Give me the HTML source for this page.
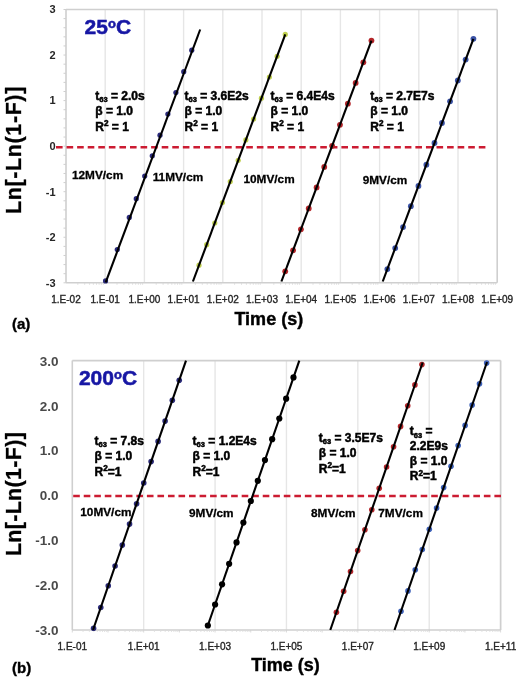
<!DOCTYPE html>
<html><head><meta charset="utf-8"><title>Weibull plots</title>
<style>
html,body{margin:0;padding:0;background:#fff;}
body{width:520px;height:680px;overflow:hidden;}
svg{display:block;font-family:'Liberation Sans', Arial, sans-serif;}
</style></head>
<body>
<svg width="520" height="680" viewBox="0 0 520 680">
<defs><filter id="sf" x="0" y="0" width="1" height="1"><feGaussianBlur stdDeviation="0.5"/></filter></defs>
<rect width="520" height="680" fill="#fff"/>
<g filter="url(#sf)">
<line x1="105.20" y1="9.50" x2="105.20" y2="282.80" stroke="#e6e6e6" stroke-width="1.4" />
<line x1="144.40" y1="9.50" x2="144.40" y2="282.80" stroke="#e6e6e6" stroke-width="1.4" />
<line x1="183.60" y1="9.50" x2="183.60" y2="282.80" stroke="#e6e6e6" stroke-width="1.4" />
<line x1="222.80" y1="9.50" x2="222.80" y2="282.80" stroke="#e6e6e6" stroke-width="1.4" />
<line x1="262.00" y1="9.50" x2="262.00" y2="282.80" stroke="#e6e6e6" stroke-width="1.4" />
<line x1="301.20" y1="9.50" x2="301.20" y2="282.80" stroke="#e6e6e6" stroke-width="1.4" />
<line x1="340.40" y1="9.50" x2="340.40" y2="282.80" stroke="#e6e6e6" stroke-width="1.4" />
<line x1="379.60" y1="9.50" x2="379.60" y2="282.80" stroke="#e6e6e6" stroke-width="1.4" />
<line x1="418.80" y1="9.50" x2="418.80" y2="282.80" stroke="#e6e6e6" stroke-width="1.4" />
<line x1="458.00" y1="9.50" x2="458.00" y2="282.80" stroke="#e6e6e6" stroke-width="1.4" />
<line x1="66.00" y1="9.50" x2="497.20" y2="9.50" stroke="#cfcfcf" stroke-width="1.6" />
<line x1="497.20" y1="9.50" x2="497.20" y2="282.80" stroke="#cfcfcf" stroke-width="1.6" />
<line x1="66.00" y1="9.50" x2="66.00" y2="282.80" stroke="#cfcfcf" stroke-width="1.6" />
<line x1="66.00" y1="282.80" x2="497.20" y2="282.80" stroke="#cfcfcf" stroke-width="1.6" />
<line x1="63.50" y1="9.50" x2="66.00" y2="9.50" stroke="#cfcfcf" stroke-width="1" />
<line x1="63.50" y1="18.61" x2="66.00" y2="18.61" stroke="#cfcfcf" stroke-width="1" />
<line x1="63.50" y1="27.72" x2="66.00" y2="27.72" stroke="#cfcfcf" stroke-width="1" />
<line x1="63.50" y1="36.83" x2="66.00" y2="36.83" stroke="#cfcfcf" stroke-width="1" />
<line x1="63.50" y1="45.94" x2="66.00" y2="45.94" stroke="#cfcfcf" stroke-width="1" />
<line x1="63.50" y1="55.05" x2="66.00" y2="55.05" stroke="#cfcfcf" stroke-width="1" />
<line x1="63.50" y1="64.16" x2="66.00" y2="64.16" stroke="#cfcfcf" stroke-width="1" />
<line x1="63.50" y1="73.27" x2="66.00" y2="73.27" stroke="#cfcfcf" stroke-width="1" />
<line x1="63.50" y1="82.38" x2="66.00" y2="82.38" stroke="#cfcfcf" stroke-width="1" />
<line x1="63.50" y1="91.49" x2="66.00" y2="91.49" stroke="#cfcfcf" stroke-width="1" />
<line x1="63.50" y1="100.60" x2="66.00" y2="100.60" stroke="#cfcfcf" stroke-width="1" />
<line x1="63.50" y1="109.71" x2="66.00" y2="109.71" stroke="#cfcfcf" stroke-width="1" />
<line x1="63.50" y1="118.82" x2="66.00" y2="118.82" stroke="#cfcfcf" stroke-width="1" />
<line x1="63.50" y1="127.93" x2="66.00" y2="127.93" stroke="#cfcfcf" stroke-width="1" />
<line x1="63.50" y1="137.04" x2="66.00" y2="137.04" stroke="#cfcfcf" stroke-width="1" />
<line x1="63.50" y1="146.15" x2="66.00" y2="146.15" stroke="#cfcfcf" stroke-width="1" />
<line x1="63.50" y1="155.26" x2="66.00" y2="155.26" stroke="#cfcfcf" stroke-width="1" />
<line x1="63.50" y1="164.37" x2="66.00" y2="164.37" stroke="#cfcfcf" stroke-width="1" />
<line x1="63.50" y1="173.48" x2="66.00" y2="173.48" stroke="#cfcfcf" stroke-width="1" />
<line x1="63.50" y1="182.59" x2="66.00" y2="182.59" stroke="#cfcfcf" stroke-width="1" />
<line x1="63.50" y1="191.70" x2="66.00" y2="191.70" stroke="#cfcfcf" stroke-width="1" />
<line x1="63.50" y1="200.81" x2="66.00" y2="200.81" stroke="#cfcfcf" stroke-width="1" />
<line x1="63.50" y1="209.92" x2="66.00" y2="209.92" stroke="#cfcfcf" stroke-width="1" />
<line x1="63.50" y1="219.03" x2="66.00" y2="219.03" stroke="#cfcfcf" stroke-width="1" />
<line x1="63.50" y1="228.14" x2="66.00" y2="228.14" stroke="#cfcfcf" stroke-width="1" />
<line x1="63.50" y1="237.25" x2="66.00" y2="237.25" stroke="#cfcfcf" stroke-width="1" />
<line x1="63.50" y1="246.36" x2="66.00" y2="246.36" stroke="#cfcfcf" stroke-width="1" />
<line x1="63.50" y1="255.47" x2="66.00" y2="255.47" stroke="#cfcfcf" stroke-width="1" />
<line x1="63.50" y1="264.58" x2="66.00" y2="264.58" stroke="#cfcfcf" stroke-width="1" />
<line x1="63.50" y1="273.69" x2="66.00" y2="273.69" stroke="#cfcfcf" stroke-width="1" />
<line x1="63.50" y1="282.80" x2="66.00" y2="282.80" stroke="#cfcfcf" stroke-width="1" />
<line x1="77.80" y1="282.80" x2="77.80" y2="284.80" stroke="#d8d8d8" stroke-width="0.8" />
<line x1="84.70" y1="282.80" x2="84.70" y2="284.80" stroke="#d8d8d8" stroke-width="0.8" />
<line x1="89.60" y1="282.80" x2="89.60" y2="284.80" stroke="#d8d8d8" stroke-width="0.8" />
<line x1="93.40" y1="282.80" x2="93.40" y2="284.80" stroke="#d8d8d8" stroke-width="0.8" />
<line x1="96.50" y1="282.80" x2="96.50" y2="284.80" stroke="#d8d8d8" stroke-width="0.8" />
<line x1="99.13" y1="282.80" x2="99.13" y2="284.80" stroke="#d8d8d8" stroke-width="0.8" />
<line x1="101.40" y1="282.80" x2="101.40" y2="284.80" stroke="#d8d8d8" stroke-width="0.8" />
<line x1="103.41" y1="282.80" x2="103.41" y2="284.80" stroke="#d8d8d8" stroke-width="0.8" />
<line x1="117.00" y1="282.80" x2="117.00" y2="284.80" stroke="#d8d8d8" stroke-width="0.8" />
<line x1="123.90" y1="282.80" x2="123.90" y2="284.80" stroke="#d8d8d8" stroke-width="0.8" />
<line x1="128.80" y1="282.80" x2="128.80" y2="284.80" stroke="#d8d8d8" stroke-width="0.8" />
<line x1="132.60" y1="282.80" x2="132.60" y2="284.80" stroke="#d8d8d8" stroke-width="0.8" />
<line x1="135.70" y1="282.80" x2="135.70" y2="284.80" stroke="#d8d8d8" stroke-width="0.8" />
<line x1="138.33" y1="282.80" x2="138.33" y2="284.80" stroke="#d8d8d8" stroke-width="0.8" />
<line x1="140.60" y1="282.80" x2="140.60" y2="284.80" stroke="#d8d8d8" stroke-width="0.8" />
<line x1="142.61" y1="282.80" x2="142.61" y2="284.80" stroke="#d8d8d8" stroke-width="0.8" />
<line x1="156.20" y1="282.80" x2="156.20" y2="284.80" stroke="#d8d8d8" stroke-width="0.8" />
<line x1="163.10" y1="282.80" x2="163.10" y2="284.80" stroke="#d8d8d8" stroke-width="0.8" />
<line x1="168.00" y1="282.80" x2="168.00" y2="284.80" stroke="#d8d8d8" stroke-width="0.8" />
<line x1="171.80" y1="282.80" x2="171.80" y2="284.80" stroke="#d8d8d8" stroke-width="0.8" />
<line x1="174.90" y1="282.80" x2="174.90" y2="284.80" stroke="#d8d8d8" stroke-width="0.8" />
<line x1="177.53" y1="282.80" x2="177.53" y2="284.80" stroke="#d8d8d8" stroke-width="0.8" />
<line x1="179.80" y1="282.80" x2="179.80" y2="284.80" stroke="#d8d8d8" stroke-width="0.8" />
<line x1="181.81" y1="282.80" x2="181.81" y2="284.80" stroke="#d8d8d8" stroke-width="0.8" />
<line x1="195.40" y1="282.80" x2="195.40" y2="284.80" stroke="#d8d8d8" stroke-width="0.8" />
<line x1="202.30" y1="282.80" x2="202.30" y2="284.80" stroke="#d8d8d8" stroke-width="0.8" />
<line x1="207.20" y1="282.80" x2="207.20" y2="284.80" stroke="#d8d8d8" stroke-width="0.8" />
<line x1="211.00" y1="282.80" x2="211.00" y2="284.80" stroke="#d8d8d8" stroke-width="0.8" />
<line x1="214.10" y1="282.80" x2="214.10" y2="284.80" stroke="#d8d8d8" stroke-width="0.8" />
<line x1="216.73" y1="282.80" x2="216.73" y2="284.80" stroke="#d8d8d8" stroke-width="0.8" />
<line x1="219.00" y1="282.80" x2="219.00" y2="284.80" stroke="#d8d8d8" stroke-width="0.8" />
<line x1="221.01" y1="282.80" x2="221.01" y2="284.80" stroke="#d8d8d8" stroke-width="0.8" />
<line x1="234.60" y1="282.80" x2="234.60" y2="284.80" stroke="#d8d8d8" stroke-width="0.8" />
<line x1="241.50" y1="282.80" x2="241.50" y2="284.80" stroke="#d8d8d8" stroke-width="0.8" />
<line x1="246.40" y1="282.80" x2="246.40" y2="284.80" stroke="#d8d8d8" stroke-width="0.8" />
<line x1="250.20" y1="282.80" x2="250.20" y2="284.80" stroke="#d8d8d8" stroke-width="0.8" />
<line x1="253.30" y1="282.80" x2="253.30" y2="284.80" stroke="#d8d8d8" stroke-width="0.8" />
<line x1="255.93" y1="282.80" x2="255.93" y2="284.80" stroke="#d8d8d8" stroke-width="0.8" />
<line x1="258.20" y1="282.80" x2="258.20" y2="284.80" stroke="#d8d8d8" stroke-width="0.8" />
<line x1="260.21" y1="282.80" x2="260.21" y2="284.80" stroke="#d8d8d8" stroke-width="0.8" />
<line x1="273.80" y1="282.80" x2="273.80" y2="284.80" stroke="#d8d8d8" stroke-width="0.8" />
<line x1="280.70" y1="282.80" x2="280.70" y2="284.80" stroke="#d8d8d8" stroke-width="0.8" />
<line x1="285.60" y1="282.80" x2="285.60" y2="284.80" stroke="#d8d8d8" stroke-width="0.8" />
<line x1="289.40" y1="282.80" x2="289.40" y2="284.80" stroke="#d8d8d8" stroke-width="0.8" />
<line x1="292.50" y1="282.80" x2="292.50" y2="284.80" stroke="#d8d8d8" stroke-width="0.8" />
<line x1="295.13" y1="282.80" x2="295.13" y2="284.80" stroke="#d8d8d8" stroke-width="0.8" />
<line x1="297.40" y1="282.80" x2="297.40" y2="284.80" stroke="#d8d8d8" stroke-width="0.8" />
<line x1="299.41" y1="282.80" x2="299.41" y2="284.80" stroke="#d8d8d8" stroke-width="0.8" />
<line x1="313.00" y1="282.80" x2="313.00" y2="284.80" stroke="#d8d8d8" stroke-width="0.8" />
<line x1="319.90" y1="282.80" x2="319.90" y2="284.80" stroke="#d8d8d8" stroke-width="0.8" />
<line x1="324.80" y1="282.80" x2="324.80" y2="284.80" stroke="#d8d8d8" stroke-width="0.8" />
<line x1="328.60" y1="282.80" x2="328.60" y2="284.80" stroke="#d8d8d8" stroke-width="0.8" />
<line x1="331.70" y1="282.80" x2="331.70" y2="284.80" stroke="#d8d8d8" stroke-width="0.8" />
<line x1="334.33" y1="282.80" x2="334.33" y2="284.80" stroke="#d8d8d8" stroke-width="0.8" />
<line x1="336.60" y1="282.80" x2="336.60" y2="284.80" stroke="#d8d8d8" stroke-width="0.8" />
<line x1="338.61" y1="282.80" x2="338.61" y2="284.80" stroke="#d8d8d8" stroke-width="0.8" />
<line x1="352.20" y1="282.80" x2="352.20" y2="284.80" stroke="#d8d8d8" stroke-width="0.8" />
<line x1="359.10" y1="282.80" x2="359.10" y2="284.80" stroke="#d8d8d8" stroke-width="0.8" />
<line x1="364.00" y1="282.80" x2="364.00" y2="284.80" stroke="#d8d8d8" stroke-width="0.8" />
<line x1="367.80" y1="282.80" x2="367.80" y2="284.80" stroke="#d8d8d8" stroke-width="0.8" />
<line x1="370.90" y1="282.80" x2="370.90" y2="284.80" stroke="#d8d8d8" stroke-width="0.8" />
<line x1="373.53" y1="282.80" x2="373.53" y2="284.80" stroke="#d8d8d8" stroke-width="0.8" />
<line x1="375.80" y1="282.80" x2="375.80" y2="284.80" stroke="#d8d8d8" stroke-width="0.8" />
<line x1="377.81" y1="282.80" x2="377.81" y2="284.80" stroke="#d8d8d8" stroke-width="0.8" />
<line x1="391.40" y1="282.80" x2="391.40" y2="284.80" stroke="#d8d8d8" stroke-width="0.8" />
<line x1="398.30" y1="282.80" x2="398.30" y2="284.80" stroke="#d8d8d8" stroke-width="0.8" />
<line x1="403.20" y1="282.80" x2="403.20" y2="284.80" stroke="#d8d8d8" stroke-width="0.8" />
<line x1="407.00" y1="282.80" x2="407.00" y2="284.80" stroke="#d8d8d8" stroke-width="0.8" />
<line x1="410.10" y1="282.80" x2="410.10" y2="284.80" stroke="#d8d8d8" stroke-width="0.8" />
<line x1="412.73" y1="282.80" x2="412.73" y2="284.80" stroke="#d8d8d8" stroke-width="0.8" />
<line x1="415.00" y1="282.80" x2="415.00" y2="284.80" stroke="#d8d8d8" stroke-width="0.8" />
<line x1="417.01" y1="282.80" x2="417.01" y2="284.80" stroke="#d8d8d8" stroke-width="0.8" />
<line x1="430.60" y1="282.80" x2="430.60" y2="284.80" stroke="#d8d8d8" stroke-width="0.8" />
<line x1="437.50" y1="282.80" x2="437.50" y2="284.80" stroke="#d8d8d8" stroke-width="0.8" />
<line x1="442.40" y1="282.80" x2="442.40" y2="284.80" stroke="#d8d8d8" stroke-width="0.8" />
<line x1="446.20" y1="282.80" x2="446.20" y2="284.80" stroke="#d8d8d8" stroke-width="0.8" />
<line x1="449.30" y1="282.80" x2="449.30" y2="284.80" stroke="#d8d8d8" stroke-width="0.8" />
<line x1="451.93" y1="282.80" x2="451.93" y2="284.80" stroke="#d8d8d8" stroke-width="0.8" />
<line x1="454.20" y1="282.80" x2="454.20" y2="284.80" stroke="#d8d8d8" stroke-width="0.8" />
<line x1="456.21" y1="282.80" x2="456.21" y2="284.80" stroke="#d8d8d8" stroke-width="0.8" />
<line x1="469.80" y1="282.80" x2="469.80" y2="284.80" stroke="#d8d8d8" stroke-width="0.8" />
<line x1="476.70" y1="282.80" x2="476.70" y2="284.80" stroke="#d8d8d8" stroke-width="0.8" />
<line x1="481.60" y1="282.80" x2="481.60" y2="284.80" stroke="#d8d8d8" stroke-width="0.8" />
<line x1="485.40" y1="282.80" x2="485.40" y2="284.80" stroke="#d8d8d8" stroke-width="0.8" />
<line x1="488.50" y1="282.80" x2="488.50" y2="284.80" stroke="#d8d8d8" stroke-width="0.8" />
<line x1="491.13" y1="282.80" x2="491.13" y2="284.80" stroke="#d8d8d8" stroke-width="0.8" />
<line x1="493.40" y1="282.80" x2="493.40" y2="284.80" stroke="#d8d8d8" stroke-width="0.8" />
<line x1="495.41" y1="282.80" x2="495.41" y2="284.80" stroke="#d8d8d8" stroke-width="0.8" />
<text x="55.50" y="286.60" font-size="11" font-weight="bold" fill="#262626" text-anchor="end" >-3</text>
<text x="55.50" y="241.05" font-size="11" font-weight="bold" fill="#262626" text-anchor="end" >-2</text>
<text x="55.50" y="195.50" font-size="11" font-weight="bold" fill="#262626" text-anchor="end" >-1</text>
<text x="55.50" y="149.95" font-size="11" font-weight="bold" fill="#262626" text-anchor="end" >0</text>
<text x="55.50" y="104.40" font-size="11" font-weight="bold" fill="#262626" text-anchor="end" >1</text>
<text x="55.50" y="58.85" font-size="11" font-weight="bold" fill="#262626" text-anchor="end" >2</text>
<text x="55.50" y="13.30" font-size="11" font-weight="bold" fill="#262626" text-anchor="end" >3</text>
<text x="66.00" y="302.50" font-size="10" font-weight="normal" fill="#262626" text-anchor="middle" stroke="#262626" stroke-width="0.35">1.E-02</text>
<text x="105.20" y="302.50" font-size="10" font-weight="normal" fill="#262626" text-anchor="middle" stroke="#262626" stroke-width="0.35">1.E-01</text>
<text x="144.40" y="302.50" font-size="10" font-weight="normal" fill="#262626" text-anchor="middle" stroke="#262626" stroke-width="0.35">1.E+00</text>
<text x="183.60" y="302.50" font-size="10" font-weight="normal" fill="#262626" text-anchor="middle" stroke="#262626" stroke-width="0.35">1.E+01</text>
<text x="222.80" y="302.50" font-size="10" font-weight="normal" fill="#262626" text-anchor="middle" stroke="#262626" stroke-width="0.35">1.E+02</text>
<text x="262.00" y="302.50" font-size="10" font-weight="normal" fill="#262626" text-anchor="middle" stroke="#262626" stroke-width="0.35">1.E+03</text>
<text x="301.20" y="302.50" font-size="10" font-weight="normal" fill="#262626" text-anchor="middle" stroke="#262626" stroke-width="0.35">1.E+04</text>
<text x="340.40" y="302.50" font-size="10" font-weight="normal" fill="#262626" text-anchor="middle" stroke="#262626" stroke-width="0.35">1.E+05</text>
<text x="379.60" y="302.50" font-size="10" font-weight="normal" fill="#262626" text-anchor="middle" stroke="#262626" stroke-width="0.35">1.E+06</text>
<text x="418.80" y="302.50" font-size="10" font-weight="normal" fill="#262626" text-anchor="middle" stroke="#262626" stroke-width="0.35">1.E+07</text>
<text x="458.00" y="302.50" font-size="10" font-weight="normal" fill="#262626" text-anchor="middle" stroke="#262626" stroke-width="0.35">1.E+08</text>
<text x="497.20" y="302.50" font-size="10" font-weight="normal" fill="#262626" text-anchor="middle" stroke="#262626" stroke-width="0.35">1.E+09</text>
<line x1="143.68" y1="360.60" x2="143.68" y2="630.00" stroke="#e6e6e6" stroke-width="1.4" />
<line x1="215.07" y1="360.60" x2="215.07" y2="630.00" stroke="#e6e6e6" stroke-width="1.4" />
<line x1="286.45" y1="360.60" x2="286.45" y2="630.00" stroke="#e6e6e6" stroke-width="1.4" />
<line x1="357.83" y1="360.60" x2="357.83" y2="630.00" stroke="#e6e6e6" stroke-width="1.4" />
<line x1="429.22" y1="360.60" x2="429.22" y2="630.00" stroke="#e6e6e6" stroke-width="1.4" />
<line x1="500.60" y1="360.60" x2="500.60" y2="630.00" stroke="#e6e6e6" stroke-width="1.4" />
<line x1="72.30" y1="360.60" x2="500.60" y2="360.60" stroke="#cfcfcf" stroke-width="1.6" />
<line x1="500.60" y1="360.60" x2="500.60" y2="630.00" stroke="#cfcfcf" stroke-width="1.6" />
<line x1="72.30" y1="360.60" x2="72.30" y2="630.00" stroke="#cfcfcf" stroke-width="1.6" />
<line x1="72.30" y1="630.00" x2="500.60" y2="630.00" stroke="#cfcfcf" stroke-width="1.6" />
<line x1="72.30" y1="630.00" x2="72.30" y2="632.50" stroke="#d0d0d0" stroke-width="0.8" />
<line x1="83.04" y1="630.00" x2="83.04" y2="632.00" stroke="#dcdcdc" stroke-width="0.8" />
<line x1="89.33" y1="630.00" x2="89.33" y2="632.00" stroke="#dcdcdc" stroke-width="0.8" />
<line x1="93.79" y1="630.00" x2="93.79" y2="632.00" stroke="#dcdcdc" stroke-width="0.8" />
<line x1="97.25" y1="630.00" x2="97.25" y2="632.00" stroke="#dcdcdc" stroke-width="0.8" />
<line x1="100.07" y1="630.00" x2="100.07" y2="632.00" stroke="#dcdcdc" stroke-width="0.8" />
<line x1="102.46" y1="630.00" x2="102.46" y2="632.00" stroke="#dcdcdc" stroke-width="0.8" />
<line x1="104.53" y1="630.00" x2="104.53" y2="632.00" stroke="#dcdcdc" stroke-width="0.8" />
<line x1="106.36" y1="630.00" x2="106.36" y2="632.00" stroke="#dcdcdc" stroke-width="0.8" />
<line x1="107.99" y1="630.00" x2="107.99" y2="632.50" stroke="#d0d0d0" stroke-width="0.8" />
<line x1="118.74" y1="630.00" x2="118.74" y2="632.00" stroke="#dcdcdc" stroke-width="0.8" />
<line x1="125.02" y1="630.00" x2="125.02" y2="632.00" stroke="#dcdcdc" stroke-width="0.8" />
<line x1="129.48" y1="630.00" x2="129.48" y2="632.00" stroke="#dcdcdc" stroke-width="0.8" />
<line x1="132.94" y1="630.00" x2="132.94" y2="632.00" stroke="#dcdcdc" stroke-width="0.8" />
<line x1="135.77" y1="630.00" x2="135.77" y2="632.00" stroke="#dcdcdc" stroke-width="0.8" />
<line x1="138.15" y1="630.00" x2="138.15" y2="632.00" stroke="#dcdcdc" stroke-width="0.8" />
<line x1="140.22" y1="630.00" x2="140.22" y2="632.00" stroke="#dcdcdc" stroke-width="0.8" />
<line x1="142.05" y1="630.00" x2="142.05" y2="632.00" stroke="#dcdcdc" stroke-width="0.8" />
<line x1="143.68" y1="630.00" x2="143.68" y2="632.50" stroke="#d0d0d0" stroke-width="0.8" />
<line x1="154.43" y1="630.00" x2="154.43" y2="632.00" stroke="#dcdcdc" stroke-width="0.8" />
<line x1="160.71" y1="630.00" x2="160.71" y2="632.00" stroke="#dcdcdc" stroke-width="0.8" />
<line x1="165.17" y1="630.00" x2="165.17" y2="632.00" stroke="#dcdcdc" stroke-width="0.8" />
<line x1="168.63" y1="630.00" x2="168.63" y2="632.00" stroke="#dcdcdc" stroke-width="0.8" />
<line x1="171.46" y1="630.00" x2="171.46" y2="632.00" stroke="#dcdcdc" stroke-width="0.8" />
<line x1="173.85" y1="630.00" x2="173.85" y2="632.00" stroke="#dcdcdc" stroke-width="0.8" />
<line x1="175.92" y1="630.00" x2="175.92" y2="632.00" stroke="#dcdcdc" stroke-width="0.8" />
<line x1="177.74" y1="630.00" x2="177.74" y2="632.00" stroke="#dcdcdc" stroke-width="0.8" />
<line x1="179.38" y1="630.00" x2="179.38" y2="632.50" stroke="#d0d0d0" stroke-width="0.8" />
<line x1="190.12" y1="630.00" x2="190.12" y2="632.00" stroke="#dcdcdc" stroke-width="0.8" />
<line x1="196.40" y1="630.00" x2="196.40" y2="632.00" stroke="#dcdcdc" stroke-width="0.8" />
<line x1="200.86" y1="630.00" x2="200.86" y2="632.00" stroke="#dcdcdc" stroke-width="0.8" />
<line x1="204.32" y1="630.00" x2="204.32" y2="632.00" stroke="#dcdcdc" stroke-width="0.8" />
<line x1="207.15" y1="630.00" x2="207.15" y2="632.00" stroke="#dcdcdc" stroke-width="0.8" />
<line x1="209.54" y1="630.00" x2="209.54" y2="632.00" stroke="#dcdcdc" stroke-width="0.8" />
<line x1="211.61" y1="630.00" x2="211.61" y2="632.00" stroke="#dcdcdc" stroke-width="0.8" />
<line x1="213.43" y1="630.00" x2="213.43" y2="632.00" stroke="#dcdcdc" stroke-width="0.8" />
<line x1="215.07" y1="630.00" x2="215.07" y2="632.50" stroke="#d0d0d0" stroke-width="0.8" />
<line x1="225.81" y1="630.00" x2="225.81" y2="632.00" stroke="#dcdcdc" stroke-width="0.8" />
<line x1="232.10" y1="630.00" x2="232.10" y2="632.00" stroke="#dcdcdc" stroke-width="0.8" />
<line x1="236.56" y1="630.00" x2="236.56" y2="632.00" stroke="#dcdcdc" stroke-width="0.8" />
<line x1="240.01" y1="630.00" x2="240.01" y2="632.00" stroke="#dcdcdc" stroke-width="0.8" />
<line x1="242.84" y1="630.00" x2="242.84" y2="632.00" stroke="#dcdcdc" stroke-width="0.8" />
<line x1="245.23" y1="630.00" x2="245.23" y2="632.00" stroke="#dcdcdc" stroke-width="0.8" />
<line x1="247.30" y1="630.00" x2="247.30" y2="632.00" stroke="#dcdcdc" stroke-width="0.8" />
<line x1="249.13" y1="630.00" x2="249.13" y2="632.00" stroke="#dcdcdc" stroke-width="0.8" />
<line x1="250.76" y1="630.00" x2="250.76" y2="632.50" stroke="#d0d0d0" stroke-width="0.8" />
<line x1="261.50" y1="630.00" x2="261.50" y2="632.00" stroke="#dcdcdc" stroke-width="0.8" />
<line x1="267.79" y1="630.00" x2="267.79" y2="632.00" stroke="#dcdcdc" stroke-width="0.8" />
<line x1="272.25" y1="630.00" x2="272.25" y2="632.00" stroke="#dcdcdc" stroke-width="0.8" />
<line x1="275.71" y1="630.00" x2="275.71" y2="632.00" stroke="#dcdcdc" stroke-width="0.8" />
<line x1="278.53" y1="630.00" x2="278.53" y2="632.00" stroke="#dcdcdc" stroke-width="0.8" />
<line x1="280.92" y1="630.00" x2="280.92" y2="632.00" stroke="#dcdcdc" stroke-width="0.8" />
<line x1="282.99" y1="630.00" x2="282.99" y2="632.00" stroke="#dcdcdc" stroke-width="0.8" />
<line x1="284.82" y1="630.00" x2="284.82" y2="632.00" stroke="#dcdcdc" stroke-width="0.8" />
<line x1="286.45" y1="630.00" x2="286.45" y2="632.50" stroke="#d0d0d0" stroke-width="0.8" />
<line x1="297.19" y1="630.00" x2="297.19" y2="632.00" stroke="#dcdcdc" stroke-width="0.8" />
<line x1="303.48" y1="630.00" x2="303.48" y2="632.00" stroke="#dcdcdc" stroke-width="0.8" />
<line x1="307.94" y1="630.00" x2="307.94" y2="632.00" stroke="#dcdcdc" stroke-width="0.8" />
<line x1="311.40" y1="630.00" x2="311.40" y2="632.00" stroke="#dcdcdc" stroke-width="0.8" />
<line x1="314.22" y1="630.00" x2="314.22" y2="632.00" stroke="#dcdcdc" stroke-width="0.8" />
<line x1="316.61" y1="630.00" x2="316.61" y2="632.00" stroke="#dcdcdc" stroke-width="0.8" />
<line x1="318.68" y1="630.00" x2="318.68" y2="632.00" stroke="#dcdcdc" stroke-width="0.8" />
<line x1="320.51" y1="630.00" x2="320.51" y2="632.00" stroke="#dcdcdc" stroke-width="0.8" />
<line x1="322.14" y1="630.00" x2="322.14" y2="632.50" stroke="#d0d0d0" stroke-width="0.8" />
<line x1="332.89" y1="630.00" x2="332.89" y2="632.00" stroke="#dcdcdc" stroke-width="0.8" />
<line x1="339.17" y1="630.00" x2="339.17" y2="632.00" stroke="#dcdcdc" stroke-width="0.8" />
<line x1="343.63" y1="630.00" x2="343.63" y2="632.00" stroke="#dcdcdc" stroke-width="0.8" />
<line x1="347.09" y1="630.00" x2="347.09" y2="632.00" stroke="#dcdcdc" stroke-width="0.8" />
<line x1="349.92" y1="630.00" x2="349.92" y2="632.00" stroke="#dcdcdc" stroke-width="0.8" />
<line x1="352.30" y1="630.00" x2="352.30" y2="632.00" stroke="#dcdcdc" stroke-width="0.8" />
<line x1="354.37" y1="630.00" x2="354.37" y2="632.00" stroke="#dcdcdc" stroke-width="0.8" />
<line x1="356.20" y1="630.00" x2="356.20" y2="632.00" stroke="#dcdcdc" stroke-width="0.8" />
<line x1="357.83" y1="630.00" x2="357.83" y2="632.50" stroke="#d0d0d0" stroke-width="0.8" />
<line x1="368.58" y1="630.00" x2="368.58" y2="632.00" stroke="#dcdcdc" stroke-width="0.8" />
<line x1="374.86" y1="630.00" x2="374.86" y2="632.00" stroke="#dcdcdc" stroke-width="0.8" />
<line x1="379.32" y1="630.00" x2="379.32" y2="632.00" stroke="#dcdcdc" stroke-width="0.8" />
<line x1="382.78" y1="630.00" x2="382.78" y2="632.00" stroke="#dcdcdc" stroke-width="0.8" />
<line x1="385.61" y1="630.00" x2="385.61" y2="632.00" stroke="#dcdcdc" stroke-width="0.8" />
<line x1="388.00" y1="630.00" x2="388.00" y2="632.00" stroke="#dcdcdc" stroke-width="0.8" />
<line x1="390.07" y1="630.00" x2="390.07" y2="632.00" stroke="#dcdcdc" stroke-width="0.8" />
<line x1="391.89" y1="630.00" x2="391.89" y2="632.00" stroke="#dcdcdc" stroke-width="0.8" />
<line x1="393.53" y1="630.00" x2="393.53" y2="632.50" stroke="#d0d0d0" stroke-width="0.8" />
<line x1="404.27" y1="630.00" x2="404.27" y2="632.00" stroke="#dcdcdc" stroke-width="0.8" />
<line x1="410.55" y1="630.00" x2="410.55" y2="632.00" stroke="#dcdcdc" stroke-width="0.8" />
<line x1="415.01" y1="630.00" x2="415.01" y2="632.00" stroke="#dcdcdc" stroke-width="0.8" />
<line x1="418.47" y1="630.00" x2="418.47" y2="632.00" stroke="#dcdcdc" stroke-width="0.8" />
<line x1="421.30" y1="630.00" x2="421.30" y2="632.00" stroke="#dcdcdc" stroke-width="0.8" />
<line x1="423.69" y1="630.00" x2="423.69" y2="632.00" stroke="#dcdcdc" stroke-width="0.8" />
<line x1="425.76" y1="630.00" x2="425.76" y2="632.00" stroke="#dcdcdc" stroke-width="0.8" />
<line x1="427.58" y1="630.00" x2="427.58" y2="632.00" stroke="#dcdcdc" stroke-width="0.8" />
<line x1="429.22" y1="630.00" x2="429.22" y2="632.50" stroke="#d0d0d0" stroke-width="0.8" />
<line x1="439.96" y1="630.00" x2="439.96" y2="632.00" stroke="#dcdcdc" stroke-width="0.8" />
<line x1="446.25" y1="630.00" x2="446.25" y2="632.00" stroke="#dcdcdc" stroke-width="0.8" />
<line x1="450.71" y1="630.00" x2="450.71" y2="632.00" stroke="#dcdcdc" stroke-width="0.8" />
<line x1="454.16" y1="630.00" x2="454.16" y2="632.00" stroke="#dcdcdc" stroke-width="0.8" />
<line x1="456.99" y1="630.00" x2="456.99" y2="632.00" stroke="#dcdcdc" stroke-width="0.8" />
<line x1="459.38" y1="630.00" x2="459.38" y2="632.00" stroke="#dcdcdc" stroke-width="0.8" />
<line x1="461.45" y1="630.00" x2="461.45" y2="632.00" stroke="#dcdcdc" stroke-width="0.8" />
<line x1="463.28" y1="630.00" x2="463.28" y2="632.00" stroke="#dcdcdc" stroke-width="0.8" />
<line x1="464.91" y1="630.00" x2="464.91" y2="632.50" stroke="#d0d0d0" stroke-width="0.8" />
<line x1="475.65" y1="630.00" x2="475.65" y2="632.00" stroke="#dcdcdc" stroke-width="0.8" />
<line x1="481.94" y1="630.00" x2="481.94" y2="632.00" stroke="#dcdcdc" stroke-width="0.8" />
<line x1="486.40" y1="630.00" x2="486.40" y2="632.00" stroke="#dcdcdc" stroke-width="0.8" />
<line x1="489.86" y1="630.00" x2="489.86" y2="632.00" stroke="#dcdcdc" stroke-width="0.8" />
<line x1="492.68" y1="630.00" x2="492.68" y2="632.00" stroke="#dcdcdc" stroke-width="0.8" />
<line x1="495.07" y1="630.00" x2="495.07" y2="632.00" stroke="#dcdcdc" stroke-width="0.8" />
<line x1="497.14" y1="630.00" x2="497.14" y2="632.00" stroke="#dcdcdc" stroke-width="0.8" />
<line x1="498.97" y1="630.00" x2="498.97" y2="632.00" stroke="#dcdcdc" stroke-width="0.8" />
<line x1="500.60" y1="630.00" x2="500.60" y2="632.50" stroke="#d0d0d0" stroke-width="0.8" />
<text x="58.50" y="635.00" font-size="13.5" font-weight="bold" fill="#4a4a4a" text-anchor="end" >-3.0</text>
<text x="58.50" y="590.10" font-size="13.5" font-weight="bold" fill="#4a4a4a" text-anchor="end" >-2.0</text>
<text x="58.50" y="545.20" font-size="13.5" font-weight="bold" fill="#4a4a4a" text-anchor="end" >-1.0</text>
<text x="58.50" y="500.30" font-size="13.5" font-weight="bold" fill="#4a4a4a" text-anchor="end" >0.0</text>
<text x="58.50" y="455.40" font-size="13.5" font-weight="bold" fill="#4a4a4a" text-anchor="end" >1.0</text>
<text x="58.50" y="410.50" font-size="13.5" font-weight="bold" fill="#4a4a4a" text-anchor="end" >2.0</text>
<text x="58.50" y="365.60" font-size="13.5" font-weight="bold" fill="#4a4a4a" text-anchor="end" >3.0</text>
<text x="72.30" y="650.00" font-size="10" font-weight="normal" fill="#262626" text-anchor="middle" stroke="#262626" stroke-width="0.35">1.E-01</text>
<text x="143.68" y="650.00" font-size="10" font-weight="normal" fill="#262626" text-anchor="middle" stroke="#262626" stroke-width="0.35">1.E+01</text>
<text x="215.07" y="650.00" font-size="10" font-weight="normal" fill="#262626" text-anchor="middle" stroke="#262626" stroke-width="0.35">1.E+03</text>
<text x="286.45" y="650.00" font-size="10" font-weight="normal" fill="#262626" text-anchor="middle" stroke="#262626" stroke-width="0.35">1.E+05</text>
<text x="357.83" y="650.00" font-size="10" font-weight="normal" fill="#262626" text-anchor="middle" stroke="#262626" stroke-width="0.35">1.E+07</text>
<text x="429.22" y="650.00" font-size="10" font-weight="normal" fill="#262626" text-anchor="middle" stroke="#262626" stroke-width="0.35">1.E+09</text>
<text x="500.60" y="650.00" font-size="10" font-weight="normal" fill="#262626" text-anchor="middle" stroke="#262626" stroke-width="0.35">1.E+11</text>
<line x1="56.00" y1="147.20" x2="486.00" y2="147.20" stroke="#cc1a30" stroke-width="2.4" stroke-dasharray="6.6 3.97"/>
<line x1="73.20" y1="496.00" x2="501.00" y2="496.00" stroke="#cc1a30" stroke-width="2.4" stroke-dasharray="6.6 3.93"/>
<circle cx="191.76" cy="50.20" r="2.6" fill="#2a2a7a"/>
<circle cx="183.73" cy="71.70" r="2.6" fill="#2a2a7a"/>
<circle cx="175.91" cy="92.60" r="2.6" fill="#2a2a7a"/>
<circle cx="167.88" cy="114.10" r="2.6" fill="#2a2a7a"/>
<circle cx="159.99" cy="135.20" r="2.6" fill="#2a2a7a"/>
<circle cx="152.29" cy="155.80" r="2.6" fill="#2a2a7a"/>
<circle cx="144.71" cy="176.10" r="2.6" fill="#2a2a7a"/>
<circle cx="136.26" cy="198.70" r="2.6" fill="#2a2a7a"/>
<circle cx="129.27" cy="217.40" r="2.6" fill="#2a2a7a"/>
<circle cx="117.27" cy="249.50" r="2.6" fill="#2a2a7a"/>
<circle cx="105.54" cy="280.90" r="2.6" fill="#2a2a7a"/>
<line x1="105.71" y1="282.30" x2="200.20" y2="29.50" stroke="#000" stroke-width="2.1" />
<circle cx="285.27" cy="34.40" r="2.6" fill="#c0d050"/>
<circle cx="277.10" cy="56.25" r="2.6" fill="#c0d050"/>
<circle cx="269.35" cy="77.00" r="2.6" fill="#c0d050"/>
<circle cx="261.42" cy="98.20" r="2.6" fill="#c0d050"/>
<circle cx="253.61" cy="119.10" r="2.6" fill="#c0d050"/>
<circle cx="245.84" cy="139.90" r="2.6" fill="#c0d050"/>
<circle cx="238.21" cy="160.30" r="2.6" fill="#c0d050"/>
<circle cx="230.29" cy="181.50" r="2.6" fill="#c0d050"/>
<circle cx="222.44" cy="202.50" r="2.6" fill="#c0d050"/>
<circle cx="214.78" cy="223.00" r="2.6" fill="#c0d050"/>
<circle cx="206.67" cy="244.70" r="2.6" fill="#c0d050"/>
<circle cx="199.00" cy="265.20" r="2.6" fill="#c0d050"/>
<line x1="192.91" y1="281.50" x2="285.27" y2="34.40" stroke="#000" stroke-width="2.1" />
<circle cx="371.45" cy="40.60" r="2.9" fill="#b4282c"/>
<circle cx="363.34" cy="62.30" r="2.9" fill="#b4282c"/>
<circle cx="355.64" cy="82.90" r="2.9" fill="#b4282c"/>
<circle cx="347.87" cy="103.70" r="2.9" fill="#b4282c"/>
<circle cx="339.98" cy="124.80" r="2.9" fill="#b4282c"/>
<circle cx="332.13" cy="145.80" r="2.9" fill="#b4282c"/>
<circle cx="324.24" cy="166.90" r="2.9" fill="#b4282c"/>
<circle cx="316.58" cy="187.40" r="2.9" fill="#b4282c"/>
<circle cx="308.73" cy="208.40" r="2.9" fill="#b4282c"/>
<circle cx="300.92" cy="229.30" r="2.9" fill="#b4282c"/>
<circle cx="293.07" cy="250.30" r="2.9" fill="#b4282c"/>
<circle cx="285.22" cy="271.30" r="2.9" fill="#b4282c"/>
<line x1="281.41" y1="281.50" x2="371.45" y2="40.60" stroke="#000" stroke-width="2.1" />
<circle cx="473.42" cy="38.80" r="2.9" fill="#3a52a6"/>
<circle cx="465.65" cy="59.60" r="2.9" fill="#3a52a6"/>
<circle cx="457.84" cy="80.50" r="2.9" fill="#3a52a6"/>
<circle cx="450.06" cy="101.30" r="2.9" fill="#3a52a6"/>
<circle cx="441.95" cy="123.00" r="2.9" fill="#3a52a6"/>
<circle cx="434.48" cy="143.00" r="2.9" fill="#3a52a6"/>
<circle cx="426.37" cy="164.70" r="2.9" fill="#3a52a6"/>
<circle cx="418.44" cy="185.90" r="2.9" fill="#3a52a6"/>
<circle cx="410.86" cy="206.20" r="2.9" fill="#3a52a6"/>
<circle cx="403.04" cy="227.10" r="2.9" fill="#3a52a6"/>
<circle cx="395.20" cy="248.10" r="2.9" fill="#3a52a6"/>
<circle cx="387.35" cy="269.10" r="2.9" fill="#3a52a6"/>
<line x1="382.71" y1="281.50" x2="473.42" y2="38.80" stroke="#000" stroke-width="2.1" />
<circle cx="179.24" cy="380.20" r="2.8" fill="#2c2c78"/>
<circle cx="172.33" cy="400.20" r="2.8" fill="#2c2c78"/>
<circle cx="165.12" cy="421.10" r="2.8" fill="#2c2c78"/>
<circle cx="158.11" cy="441.40" r="2.8" fill="#2c2c78"/>
<circle cx="151.13" cy="461.60" r="2.8" fill="#2c2c78"/>
<circle cx="143.75" cy="483.00" r="2.8" fill="#2c2c78"/>
<circle cx="136.60" cy="503.70" r="2.8" fill="#2c2c78"/>
<circle cx="129.56" cy="524.10" r="2.8" fill="#2c2c78"/>
<circle cx="122.31" cy="545.10" r="2.8" fill="#2c2c78"/>
<circle cx="115.09" cy="566.00" r="2.8" fill="#2c2c78"/>
<circle cx="108.26" cy="585.80" r="2.8" fill="#2c2c78"/>
<circle cx="100.77" cy="607.50" r="2.8" fill="#2c2c78"/>
<circle cx="93.58" cy="628.30" r="2.8" fill="#2c2c78"/>
<line x1="93.00" y1="630.00" x2="186.00" y2="360.60" stroke="#000" stroke-width="2.1" />
<circle cx="293.50" cy="377.40" r="3.1" fill="#000000"/>
<circle cx="286.15" cy="398.70" r="3.1" fill="#000000"/>
<circle cx="279.31" cy="418.50" r="3.1" fill="#000000"/>
<circle cx="272.17" cy="439.20" r="3.1" fill="#000000"/>
<circle cx="264.95" cy="460.10" r="3.1" fill="#000000"/>
<circle cx="257.81" cy="480.80" r="3.1" fill="#000000"/>
<circle cx="250.83" cy="501.00" r="3.1" fill="#000000"/>
<circle cx="243.38" cy="522.60" r="3.1" fill="#000000"/>
<circle cx="236.54" cy="542.40" r="3.1" fill="#000000"/>
<circle cx="229.15" cy="563.80" r="3.1" fill="#000000"/>
<circle cx="222.07" cy="584.30" r="3.1" fill="#000000"/>
<circle cx="215.10" cy="604.50" r="3.1" fill="#000000"/>
<circle cx="207.85" cy="625.50" r="3.1" fill="#000000"/>
<line x1="207.85" y1="625.50" x2="299.30" y2="360.60" stroke="#000" stroke-width="2.1" />
<circle cx="421.92" cy="364.60" r="2.8" fill="#b4282c"/>
<circle cx="414.91" cy="384.90" r="2.8" fill="#b4282c"/>
<circle cx="407.73" cy="405.70" r="2.8" fill="#b4282c"/>
<circle cx="400.59" cy="426.40" r="2.8" fill="#b4282c"/>
<circle cx="393.58" cy="446.70" r="2.8" fill="#b4282c"/>
<circle cx="386.57" cy="467.00" r="2.8" fill="#b4282c"/>
<circle cx="379.22" cy="488.30" r="2.8" fill="#b4282c"/>
<circle cx="371.79" cy="509.80" r="2.8" fill="#b4282c"/>
<circle cx="364.92" cy="529.70" r="2.8" fill="#b4282c"/>
<circle cx="357.71" cy="550.60" r="2.8" fill="#b4282c"/>
<circle cx="350.49" cy="571.50" r="2.8" fill="#b4282c"/>
<circle cx="343.66" cy="591.30" r="2.8" fill="#b4282c"/>
<circle cx="336.41" cy="612.30" r="2.8" fill="#b4282c"/>
<line x1="330.30" y1="630.00" x2="422.65" y2="362.50" stroke="#000" stroke-width="2.1" />
<circle cx="486.64" cy="363.10" r="2.8" fill="#3c60b8"/>
<circle cx="479.49" cy="383.80" r="2.8" fill="#3c60b8"/>
<circle cx="472.14" cy="405.10" r="2.8" fill="#3c60b8"/>
<circle cx="465.13" cy="425.40" r="2.8" fill="#3c60b8"/>
<circle cx="458.16" cy="445.60" r="2.8" fill="#3c60b8"/>
<circle cx="451.01" cy="466.30" r="2.8" fill="#3c60b8"/>
<circle cx="443.66" cy="487.60" r="2.8" fill="#3c60b8"/>
<circle cx="436.58" cy="508.10" r="2.8" fill="#3c60b8"/>
<circle cx="429.30" cy="529.20" r="2.8" fill="#3c60b8"/>
<circle cx="422.29" cy="549.50" r="2.8" fill="#3c60b8"/>
<circle cx="415.28" cy="569.80" r="2.8" fill="#3c60b8"/>
<circle cx="408.00" cy="590.90" r="2.8" fill="#3c60b8"/>
<circle cx="400.99" cy="611.20" r="2.8" fill="#3c60b8"/>
<line x1="394.50" y1="630.00" x2="487.02" y2="362.00" stroke="#000" stroke-width="2.1" />
<text x="84.6" y="34.4" font-size="21" font-weight="bold" fill="#1616a4" stroke="#1616a4" stroke-width="0.5">25<tspan font-size="13" dy="-6.4">o</tspan><tspan dy="6.4">C</tspan></text>
<text x="78.9" y="385.2" font-size="21" font-weight="bold" fill="#1616a4" stroke="#1616a4" stroke-width="0.5">200<tspan font-size="13" dy="-6.4">o</tspan><tspan dy="6.4">C</tspan></text>
<text x="95.30" y="99.60" font-size="12" font-weight="bold" fill="#000" text-anchor="start" stroke="#000" stroke-width="0.5">t<tspan font-size="7.5" dy="2.5">63</tspan><tspan dy="-2.5"> = </tspan>2.0s</text>
<text x="95.30" y="115.10" font-size="12" font-weight="bold" fill="#000" text-anchor="start" stroke="#000" stroke-width="0.5">β = 1.0</text>
<text x="95.30" y="130.60" font-size="12" font-weight="bold" fill="#000" text-anchor="start" stroke="#000" stroke-width="0.5">R<tspan font-size="8.2" dy="-4.4">2</tspan><tspan dy="4.4"> = 1</tspan></text>
<text x="184.50" y="99.60" font-size="12" font-weight="bold" fill="#000" text-anchor="start" stroke="#000" stroke-width="0.5">t<tspan font-size="7.5" dy="2.5">63</tspan><tspan dy="-2.5"> = </tspan>3.6E2s</text>
<text x="184.50" y="115.10" font-size="12" font-weight="bold" fill="#000" text-anchor="start" stroke="#000" stroke-width="0.5">β = 1.0</text>
<text x="184.50" y="130.60" font-size="12" font-weight="bold" fill="#000" text-anchor="start" stroke="#000" stroke-width="0.5">R<tspan font-size="8.2" dy="-4.4">2</tspan><tspan dy="4.4"> = 1</tspan></text>
<text x="270.50" y="99.60" font-size="12" font-weight="bold" fill="#000" text-anchor="start" stroke="#000" stroke-width="0.5">t<tspan font-size="7.5" dy="2.5">63</tspan><tspan dy="-2.5"> = </tspan>6.4E4s</text>
<text x="270.50" y="115.10" font-size="12" font-weight="bold" fill="#000" text-anchor="start" stroke="#000" stroke-width="0.5">β = 1.0</text>
<text x="270.50" y="130.60" font-size="12" font-weight="bold" fill="#000" text-anchor="start" stroke="#000" stroke-width="0.5">R<tspan font-size="8.2" dy="-4.4">2</tspan><tspan dy="4.4"> = 1</tspan></text>
<text x="370.30" y="99.60" font-size="12" font-weight="bold" fill="#000" text-anchor="start" stroke="#000" stroke-width="0.5">t<tspan font-size="7.5" dy="2.5">63</tspan><tspan dy="-2.5"> = </tspan>2.7E7s</text>
<text x="370.30" y="115.10" font-size="12" font-weight="bold" fill="#000" text-anchor="start" stroke="#000" stroke-width="0.5">β = 1.0</text>
<text x="370.30" y="130.60" font-size="12" font-weight="bold" fill="#000" text-anchor="start" stroke="#000" stroke-width="0.5">R<tspan font-size="8.2" dy="-4.4">2</tspan><tspan dy="4.4"> = 1</tspan></text>
<text x="94.50" y="444.50" font-size="12" font-weight="bold" fill="#000" text-anchor="start" stroke="#000" stroke-width="0.5">t<tspan font-size="7.5" dy="2.5">63</tspan><tspan dy="-2.5"> = </tspan>7.8s</text>
<text x="94.50" y="460.00" font-size="12" font-weight="bold" fill="#000" text-anchor="start" stroke="#000" stroke-width="0.5">β = 1.0</text>
<text x="94.50" y="475.50" font-size="12" font-weight="bold" fill="#000" text-anchor="start" stroke="#000" stroke-width="0.5">R<tspan font-size="8.2" dy="-4.4">2</tspan><tspan dy="4.4">=1</tspan></text>
<text x="192.60" y="444.50" font-size="12" font-weight="bold" fill="#000" text-anchor="start" stroke="#000" stroke-width="0.5">t<tspan font-size="7.5" dy="2.5">63</tspan><tspan dy="-2.5"> = </tspan>1.2E4s</text>
<text x="192.60" y="460.00" font-size="12" font-weight="bold" fill="#000" text-anchor="start" stroke="#000" stroke-width="0.5">β = 1.0</text>
<text x="192.60" y="475.50" font-size="12" font-weight="bold" fill="#000" text-anchor="start" stroke="#000" stroke-width="0.5">R<tspan font-size="8.2" dy="-4.4">2</tspan><tspan dy="4.4">=1</tspan></text>
<text x="318.80" y="441.50" font-size="12" font-weight="bold" fill="#000" text-anchor="start" stroke="#000" stroke-width="0.5">t<tspan font-size="7.5" dy="2.5">63</tspan><tspan dy="-2.5"> = </tspan>3.5E7s</text>
<text x="318.80" y="457.00" font-size="12" font-weight="bold" fill="#000" text-anchor="start" stroke="#000" stroke-width="0.5">β = 1.0</text>
<text x="318.80" y="472.50" font-size="12" font-weight="bold" fill="#000" text-anchor="start" stroke="#000" stroke-width="0.5">R<tspan font-size="8.2" dy="-4.4">2</tspan><tspan dy="4.4">=1</tspan></text>
<text x="409.80" y="435.40" font-size="12" font-weight="bold" fill="#000" text-anchor="start" stroke="#000" stroke-width="0.5">t<tspan font-size="7.5" dy="2.5">63</tspan><tspan dy="-2.5"> =</tspan></text>
<text x="409.80" y="450.30" font-size="12" font-weight="bold" fill="#000" text-anchor="start" stroke="#000" stroke-width="0.5">2.2E9s</text>
<text x="409.80" y="465.20" font-size="12" font-weight="bold" fill="#000" text-anchor="start" stroke="#000" stroke-width="0.5">β = 1.0</text>
<text x="409.80" y="480.10" font-size="12" font-weight="bold" fill="#000" text-anchor="start" stroke="#000" stroke-width="0.5">R<tspan font-size="8.2" dy="-4.4">2</tspan><tspan dy="4.4">=1</tspan></text>
<text x="72.00" y="178.60" font-size="11.8" font-weight="bold" fill="#000" text-anchor="start" stroke="#000" stroke-width="0.3">12MV/cm</text>
<text x="152.70" y="181.20" font-size="11.8" font-weight="bold" fill="#000" text-anchor="start" stroke="#000" stroke-width="0.3">11MV/cm</text>
<text x="243.50" y="183.30" font-size="11.8" font-weight="bold" fill="#000" text-anchor="start" stroke="#000" stroke-width="0.3">10MV/cm</text>
<text x="362.70" y="183.60" font-size="11.8" font-weight="bold" fill="#000" text-anchor="start" stroke="#000" stroke-width="0.3">9MV/cm</text>
<text x="80.30" y="516.30" font-size="11.8" font-weight="bold" fill="#000" text-anchor="start" stroke="#000" stroke-width="0.3">10MV/cm</text>
<text x="189.00" y="516.60" font-size="11.8" font-weight="bold" fill="#000" text-anchor="start" stroke="#000" stroke-width="0.3">9MV/cm</text>
<text x="311.00" y="516.90" font-size="11.8" font-weight="bold" fill="#000" text-anchor="start" stroke="#000" stroke-width="0.3">8MV/cm</text>
<text x="378.30" y="516.90" font-size="11.8" font-weight="bold" fill="#000" text-anchor="start" stroke="#000" stroke-width="0.3">7MV/cm</text>
<text x="268.80" y="325.00" font-size="18" font-weight="bold" fill="#000" text-anchor="middle" stroke="#000" stroke-width="0.4">Time (s)</text>
<text x="285.50" y="670.70" font-size="18" font-weight="bold" fill="#000" text-anchor="middle" stroke="#000" stroke-width="0.4">Time (s)</text>
<text transform="translate(21.3,150) rotate(-90)" font-size="21.5" font-weight="bold" fill="#000" stroke="#000" stroke-width="0.3" text-anchor="middle" letter-spacing="0.6">Ln[-Ln(1-F)]</text>
<text transform="translate(21.3,494) rotate(-90)" font-size="21.5" font-weight="bold" fill="#000" stroke="#000" stroke-width="0.3" text-anchor="middle" letter-spacing="0.3">Ln[-Ln(1-F)]</text>
<text x="12.00" y="329.00" font-size="15" font-weight="bold" fill="#000" text-anchor="start" stroke="#000" stroke-width="0.4">(a)</text>
<text x="12.00" y="673.30" font-size="15" font-weight="bold" fill="#000" text-anchor="start" stroke="#000" stroke-width="0.4">(b)</text>
</g>
</svg>
</body></html>
